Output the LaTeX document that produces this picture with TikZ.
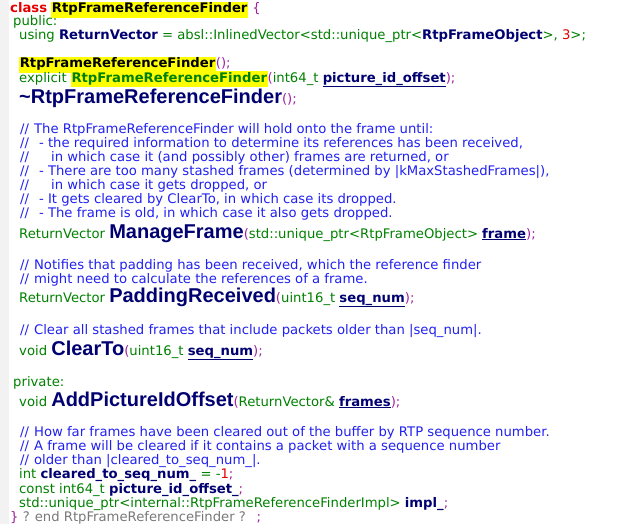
\documentclass[tikz,border=0pt]{standalone}
\usepackage{fontspec}
\setmainfont{DejaVu Sans}
\newfontfamily\bigf{Liberation Sans}
\definecolor{kwc}{RGB}{0,128,0}
\definecolor{tyc}{RGB}{0,0,112}
\definecolor{pnc}{RGB}{160,32,160}
\definecolor{cmc}{RGB}{32,32,240}
\definecolor{hlc}{RGB}{255,255,0}
\definecolor{rdc}{RGB}{230,0,0}
\definecolor{gyc}{RGB}{120,120,120}
\newcommand{\kw}[1]{\textcolor{kwc}{#1}}
\newcommand{\ty}[1]{\textcolor{tyc}{\bfseries #1}}
\newcommand{\pn}[1]{\textcolor{pnc}{#1}}
\newcommand{\ul}[1]{\textcolor{tyc}{\bfseries\underline{#1}}}
\newcommand{\hlt}[1]{{\setlength\fboxsep{0.6pt}\colorbox{hlc}{\bfseries\strut #1}}}
\newcommand{\bign}[1]{\textcolor{tyc}{\bigf\fontsize{20}{22}\selectfont\bfseries #1}}
\newcommand{\cs}{\hspace{5pt}}
\begin{document}
\begin{tikzpicture}[x=1pt,y=-1pt,
  ln/.style={anchor=base west,inner sep=0pt,font=\fontsize{13.2}{15}\selectfont},
  cmt/.style={ln,text=cmc}]
\useasboundingbox (0,0) rectangle (617,524);
\fill[black!5] (0,0) rectangle (9,524);
\node[ln] (l1) at (10,13) {\textcolor{rdc}{\bfseries class} \hlt{RtpFrameReferenceFinder} \pn{\{}};
\node[ln,text=kwc] (l2) at (13,26) {public:};
\node[ln,text=kwc] (l3) at (19,40) {using \ty{ReturnVector} = absl::InlinedVector<std::unique\_ptr<\ty{RtpFrameObject}>, \textcolor{rdc}{3}>;};
\node[ln] (l4) at (19,68) {\hlt{RtpFrameReferenceFinder}\pn{();}};
\node[ln,text=kwc] (l5) at (19,82) {explicit \hlt{RtpFrameReferenceFinder}\pn{(}int64\_t \ul{picture\_id\_offset}\pn{);}};
\node[ln] (l6) at (19,103) {\bign{\textasciitilde RtpFrameReferenceFinder}\pn{();}};
\node[cmt] (c1) at (20,133) {//\cs The RtpFrameReferenceFinder will hold onto the frame until:};
\node[cmt] (c2) at (20,147) {//\hspace{10pt}- the required information to determine its references has been received,};
\node[cmt] (c3) at (20,161) {//\hspace{22pt}in which case it (and possibly other) frames are returned, or};
\node[cmt] (c4) at (20,175) {//\hspace{10pt}- There are too many stashed frames (determined by |kMaxStashedFrames|),};
\node[cmt] (c5) at (20,189) {//\hspace{22pt}in which case it gets dropped, or};
\node[cmt] (c6) at (20,203) {//\hspace{10pt}- It gets cleared by ClearTo, in which case its dropped.};
\node[cmt] (c7) at (20,217) {//\hspace{10pt}- The frame is old, in which case it also gets dropped.};
\node[ln,text=kwc] (l7) at (19,238) {ReturnVector \bign{ManageFrame}\pn{(}std::unique\_ptr<RtpFrameObject> \ul{frame}\pn{);}};
\node[cmt] (c8) at (20,269) {//\cs Notifies that padding has been received, which the reference finder};
\node[cmt] (c9) at (20,283) {//\cs might need to calculate the references of a frame.};
\node[ln,text=kwc] (l8) at (19,302) {ReturnVector \bign{PaddingReceived}\pn{(}uint16\_t \ul{seq\_num}\pn{);}};
\node[cmt] (c10) at (20,334) {//\cs Clear all stashed frames that include packets older than |seq\_num|.};
\node[ln,text=kwc] (l9) at (19,355) {void \bign{ClearTo}\pn{(}uint16\_t \ul{seq\_num}\pn{);}};
\node[ln,text=kwc] (l10) at (13,386) {private:};
\node[ln,text=kwc] (l11) at (19,406) {void \bign{AddPictureIdOffset}\pn{(}ReturnVector\& \ul{frames}\pn{);}};
\node[cmt] (c11) at (20,436) {//\cs How far frames have been cleared out of the buffer by RTP sequence number.};
\node[cmt] (c12) at (20,450) {//\cs A frame will be cleared if it contains a packet with a sequence number};
\node[cmt] (c13) at (20,464) {//\cs older than |cleared\_to\_seq\_num\_|.};
\node[ln,text=kwc] (l12) at (19,478) {int \ty{cleared\_to\_seq\_num\_} = -\textcolor{rdc}{1}\pn{;}};
\node[ln,text=kwc] (l13) at (19,493) {const int64\_t \ty{picture\_id\_offset\_}\pn{;}};
\node[ln,text=kwc] (l14) at (19,507) {std::unique\_ptr<internal::RtpFrameReferenceFinderImpl> \ty{impl\_}\pn{;}};
\node[ln] (l15) at (10,521) {\pn{\}} \textcolor{gyc}{?\cs end RtpFrameReferenceFinder ?\cs} \pn{;}};
\end{tikzpicture}
\end{document}
